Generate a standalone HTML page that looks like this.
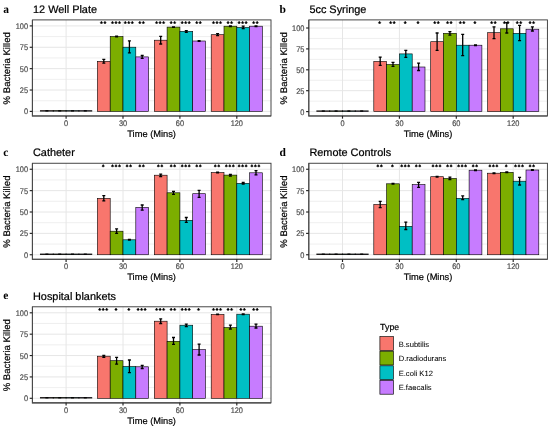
<!DOCTYPE html>
<html><head><meta charset="utf-8"><style>
html,body{margin:0;padding:0;background:#fff;}
svg{display:block;filter:blur(0.35px);}
text{font-family:"Liberation Sans",sans-serif;text-rendering:geometricPrecision;}
.tag{font-family:"Liberation Serif",serif;font-weight:bold;font-size:11.5px;fill:#000;}
.title{font-size:10.9px;fill:#000;stroke:#000;stroke-width:0.22;}
.gmin{stroke:#EBEBEB;stroke-width:0.8;}
.gmaj{stroke:#E6E6E6;stroke-width:1.0;}
.bar{stroke:#000;stroke-width:0.6;}
.bar0{stroke:#000;stroke-width:1.05;}
.err{stroke:#000;stroke-width:1.3;fill:none;}
.star{fill:#000;stroke:#000;stroke-width:0.5;stroke-linejoin:round;}
.border{fill:none;stroke:#333;stroke-width:0.9;}
.axis{fill:none;stroke:#4a4a4a;stroke-width:1.05;}
.tick{stroke:#222;stroke-width:1.15;}
.ytl{font-size:7.4px;text-anchor:end;fill:#4D4D4D;stroke:#4D4D4D;stroke-width:0.18;}
.xtl{font-size:7.4px;text-anchor:middle;fill:#4D4D4D;stroke:#4D4D4D;stroke-width:0.18;}
.axt{font-size:9.3px;text-anchor:middle;fill:#000;stroke:#000;stroke-width:0.2;}
.ayt{font-size:9.55px;}
.legt{font-size:8.8px;fill:#000;stroke:#000;stroke-width:0.2;}
.key{stroke:#000;stroke-width:0.65;}
.legl{font-size:7.6px;fill:#000;stroke:#000;stroke-width:0.05;}
</style></head>
<body><svg width="550" height="427" viewBox="0 0 550 427">
<defs><path id="st" class="star" d="M0 -1.2L1.2 0.3L0.75 1.05L-0.75 1.05L-1.2 0.3Z"/></defs>
<rect width="550" height="427" fill="#fff"/>
<g transform="translate(0,0)">
<text class="tag" x="3.2" y="12.6">a</text>
<text class="title" x="33" y="12.9">12 Well Plate</text>
<line class="gmin" x1="32.4" x2="271" y1="100.71" y2="100.71"/>
<line class="gmin" x1="32.4" x2="271" y1="79.34" y2="79.34"/>
<line class="gmin" x1="32.4" x2="271" y1="57.96" y2="57.96"/>
<line class="gmin" x1="32.4" x2="271" y1="36.59" y2="36.59"/>
<line class="gmaj" x1="32.4" x2="271" y1="111.4" y2="111.4"/>
<line class="gmaj" x1="32.4" x2="271" y1="90.03" y2="90.03"/>
<line class="gmaj" x1="32.4" x2="271" y1="68.65" y2="68.65"/>
<line class="gmaj" x1="32.4" x2="271" y1="47.28" y2="47.28"/>
<line class="gmaj" x1="32.4" x2="271" y1="25.9" y2="25.9"/>
<line class="gmaj" x1="66.1" x2="66.1" y1="19.9" y2="115.95"/>
<line class="gmaj" x1="123" x2="123" y1="19.9" y2="115.95"/>
<line class="gmaj" x1="179.9" x2="179.9" y1="19.9" y2="115.95"/>
<line class="gmaj" x1="236.8" x2="236.8" y1="19.9" y2="115.95"/>
<rect class="bar0" fill="#F8766D" x="40.5" y="110.8" width="12.8" height="0.2"/>
<path class="err" d="M45.4 110.85H48.4"/>
<rect class="bar0" fill="#7CAE00" x="53.3" y="110.8" width="12.8" height="0.2"/>
<path class="err" d="M58.2 110.85H61.2"/>
<rect class="bar0" fill="#00BFC4" x="66.1" y="110.8" width="12.8" height="0.2"/>
<path class="err" d="M71 110.85H74"/>
<rect class="bar0" fill="#C77CFF" x="78.9" y="110.8" width="12.8" height="0.2"/>
<path class="err" d="M83.8 110.85H86.8"/>
<rect class="bar" fill="#F8766D" x="97.4" y="61.3" width="12.8" height="50.1"/>
<rect class="bar" fill="#7CAE00" x="110.2" y="36.5" width="12.8" height="74.9"/>
<rect class="bar" fill="#00BFC4" x="123" y="47.2" width="12.8" height="64.2"/>
<rect class="bar" fill="#C77CFF" x="135.8" y="56.9" width="12.8" height="54.5"/>
<path class="err" d="M102.3 59.4H105.3M103.8 59.4V63.2M102.3 63.2H105.3"/>
<path class="err" d="M115.1 36.2H118.1M116.6 36.2V36.8M115.1 36.8H118.1"/>
<path class="err" d="M127.9 40.8H130.9M129.4 40.8V52.8M127.9 52.8H130.9"/>
<path class="err" d="M140.7 55.5H143.7M142.2 55.5V58.3M140.7 58.3H143.7"/>
<use href="#st" x="101.45" y="22.4"/>
<use href="#st" x="104.95" y="22.4"/>
<use href="#st" x="112.5" y="22.4"/>
<use href="#st" x="116" y="22.4"/>
<use href="#st" x="119.5" y="22.4"/>
<use href="#st" x="125.3" y="22.4"/>
<use href="#st" x="128.8" y="22.4"/>
<use href="#st" x="132.3" y="22.4"/>
<use href="#st" x="139.85" y="22.4"/>
<use href="#st" x="143.35" y="22.4"/>
<rect class="bar" fill="#F8766D" x="154.3" y="40.2" width="12.8" height="71.2"/>
<rect class="bar" fill="#7CAE00" x="167.1" y="27.1" width="12.8" height="84.3"/>
<rect class="bar" fill="#00BFC4" x="179.9" y="31.3" width="12.8" height="80.1"/>
<rect class="bar" fill="#C77CFF" x="192.7" y="41" width="12.8" height="70.4"/>
<path class="err" d="M159.2 36.3H162.2M160.7 36.3V44M159.2 44H162.2"/>
<path class="err" d="M172 26.8H175M173.5 26.8V27.4M172 27.4H175"/>
<path class="err" d="M184.8 30.6H187.8M186.3 30.6V32.3M184.8 32.3H187.8"/>
<path class="err" d="M197.6 40.7H200.6M199.1 40.7V41.3M197.6 41.3H200.6"/>
<use href="#st" x="156.6" y="22.4"/>
<use href="#st" x="160.1" y="22.4"/>
<use href="#st" x="163.6" y="22.4"/>
<use href="#st" x="171.15" y="22.4"/>
<use href="#st" x="174.65" y="22.4"/>
<use href="#st" x="182.2" y="22.4"/>
<use href="#st" x="185.7" y="22.4"/>
<use href="#st" x="189.2" y="22.4"/>
<use href="#st" x="196.75" y="22.4"/>
<use href="#st" x="200.25" y="22.4"/>
<rect class="bar" fill="#F8766D" x="211.2" y="34.7" width="12.8" height="76.7"/>
<rect class="bar" fill="#7CAE00" x="224" y="26.2" width="12.8" height="85.2"/>
<rect class="bar" fill="#00BFC4" x="236.8" y="27.4" width="12.8" height="84"/>
<rect class="bar" fill="#C77CFF" x="249.6" y="26.2" width="12.8" height="85.2"/>
<path class="err" d="M216.1 33.7H219.1M217.6 33.7V35.7M216.1 35.7H219.1"/>
<path class="err" d="M228.9 25.9H231.9M230.4 25.9V26.5M228.9 26.5H231.9"/>
<path class="err" d="M241.7 26.2H244.7M243.2 26.2V28.6M241.7 28.6H244.7"/>
<path class="err" d="M254.5 25.9H257.5M256 25.9V26.5M254.5 26.5H257.5"/>
<use href="#st" x="213.5" y="22.4"/>
<use href="#st" x="217" y="22.4"/>
<use href="#st" x="220.5" y="22.4"/>
<use href="#st" x="228.05" y="22.4"/>
<use href="#st" x="231.55" y="22.4"/>
<use href="#st" x="239.1" y="22.4"/>
<use href="#st" x="242.6" y="22.4"/>
<use href="#st" x="246.1" y="22.4"/>
<use href="#st" x="253.65" y="22.4"/>
<use href="#st" x="257.15" y="22.4"/>
<rect class="border" x="32.4" y="19.9" width="238.6" height="96.05"/>
<path class="axis" d="M32.4 19.9V115.95H271"/>
<line class="tick" x1="29.7" x2="32.4" y1="111.4" y2="111.4"/>
<text class="ytl" transform="translate(28.0,114.4) scale(1,1.1)">0</text>
<line class="tick" x1="29.7" x2="32.4" y1="90.03" y2="90.03"/>
<text class="ytl" transform="translate(28.0,93.03) scale(1,1.1)">25</text>
<line class="tick" x1="29.7" x2="32.4" y1="68.65" y2="68.65"/>
<text class="ytl" transform="translate(28.0,71.65) scale(1,1.1)">50</text>
<line class="tick" x1="29.7" x2="32.4" y1="47.28" y2="47.28"/>
<text class="ytl" transform="translate(28.0,50.28) scale(1,1.1)">75</text>
<line class="tick" x1="29.7" x2="32.4" y1="25.9" y2="25.9"/>
<text class="ytl" transform="translate(28.0,28.9) scale(1,1.1)">100</text>
<line class="tick" x1="66.1" x2="66.1" y1="115.95" y2="118.65"/>
<text class="xtl" transform="translate(66.1,126.0) scale(1,1.1)">0</text>
<line class="tick" x1="123" x2="123" y1="115.95" y2="118.65"/>
<text class="xtl" transform="translate(123,126.0) scale(1,1.1)">30</text>
<line class="tick" x1="179.9" x2="179.9" y1="115.95" y2="118.65"/>
<text class="xtl" transform="translate(179.9,126.0) scale(1,1.1)">60</text>
<line class="tick" x1="236.8" x2="236.8" y1="115.95" y2="118.65"/>
<text class="xtl" transform="translate(236.8,126.0) scale(1,1.1)">120</text>
<text class="axt" x="151.6" y="137">Time (Mins)</text>
<text class="axt ayt" transform="translate(10.2,68.3) rotate(-90)" x="0" y="0">% Bacteria Killed</text>
</g>
<g transform="translate(276.4,0)">
<text class="tag" x="3.2" y="12.6">b</text>
<text class="title" x="33" y="12.9">5cc Syringe</text>
<line class="gmin" x1="32.4" x2="271" y1="101.15" y2="101.15"/>
<line class="gmin" x1="32.4" x2="271" y1="80.25" y2="80.25"/>
<line class="gmin" x1="32.4" x2="271" y1="59.35" y2="59.35"/>
<line class="gmin" x1="32.4" x2="271" y1="38.45" y2="38.45"/>
<line class="gmaj" x1="32.4" x2="271" y1="111.6" y2="111.6"/>
<line class="gmaj" x1="32.4" x2="271" y1="90.7" y2="90.7"/>
<line class="gmaj" x1="32.4" x2="271" y1="69.8" y2="69.8"/>
<line class="gmaj" x1="32.4" x2="271" y1="48.9" y2="48.9"/>
<line class="gmaj" x1="32.4" x2="271" y1="28" y2="28"/>
<line class="gmaj" x1="66.1" x2="66.1" y1="19.9" y2="115.95"/>
<line class="gmaj" x1="123" x2="123" y1="19.9" y2="115.95"/>
<line class="gmaj" x1="179.9" x2="179.9" y1="19.9" y2="115.95"/>
<line class="gmaj" x1="236.8" x2="236.8" y1="19.9" y2="115.95"/>
<rect class="bar0" fill="#F8766D" x="40.5" y="111" width="12.8" height="0.2"/>
<path class="err" d="M45.4 111.05H48.4"/>
<rect class="bar0" fill="#7CAE00" x="53.3" y="111" width="12.8" height="0.2"/>
<path class="err" d="M58.2 111.05H61.2"/>
<rect class="bar0" fill="#00BFC4" x="66.1" y="111" width="12.8" height="0.2"/>
<path class="err" d="M71 111.05H74"/>
<rect class="bar0" fill="#C77CFF" x="78.9" y="111" width="12.8" height="0.2"/>
<path class="err" d="M83.8 111.05H86.8"/>
<rect class="bar" fill="#F8766D" x="97.4" y="61.4" width="12.8" height="50.2"/>
<rect class="bar" fill="#7CAE00" x="110.2" y="64.5" width="12.8" height="47.1"/>
<rect class="bar" fill="#00BFC4" x="123" y="53.9" width="12.8" height="57.7"/>
<rect class="bar" fill="#C77CFF" x="135.8" y="67" width="12.8" height="44.6"/>
<path class="err" d="M102.3 57.2H105.3M103.8 57.2V65.3M102.3 65.3H105.3"/>
<path class="err" d="M115.1 62.4H118.1M116.6 62.4V66.3M115.1 66.3H118.1"/>
<path class="err" d="M127.9 50.4H130.9M129.4 50.4V57.4M127.9 57.4H130.9"/>
<path class="err" d="M140.7 63.2H143.7M142.2 63.2V70.5M140.7 70.5H143.7"/>
<use href="#st" x="103.2" y="22.4"/>
<use href="#st" x="114.25" y="22.4"/>
<use href="#st" x="117.75" y="22.4"/>
<use href="#st" x="128.8" y="22.4"/>
<use href="#st" x="141.6" y="22.4"/>
<rect class="bar" fill="#F8766D" x="154.3" y="41.7" width="12.8" height="69.9"/>
<rect class="bar" fill="#7CAE00" x="167.1" y="33.3" width="12.8" height="78.3"/>
<rect class="bar" fill="#00BFC4" x="179.9" y="45.2" width="12.8" height="66.4"/>
<rect class="bar" fill="#C77CFF" x="192.7" y="45.2" width="12.8" height="66.4"/>
<path class="err" d="M159.2 33H162.2M160.7 33V50.4M159.2 50.4H162.2"/>
<path class="err" d="M172 31.6H175M173.5 31.6V35.1M172 35.1H175"/>
<path class="err" d="M184.8 34.4H187.8M186.3 34.4V55.7M184.8 55.7H187.8"/>
<path class="err" d="M197.6 44.9H200.6M199.1 44.9V45.5M197.6 45.5H200.6"/>
<use href="#st" x="158.35" y="22.4"/>
<use href="#st" x="161.85" y="22.4"/>
<use href="#st" x="171.15" y="22.4"/>
<use href="#st" x="174.65" y="22.4"/>
<use href="#st" x="183.95" y="22.4"/>
<use href="#st" x="187.45" y="22.4"/>
<use href="#st" x="198.5" y="22.4"/>
<rect class="bar" fill="#F8766D" x="211.2" y="32.7" width="12.8" height="78.9"/>
<rect class="bar" fill="#7CAE00" x="224" y="28.8" width="12.8" height="82.8"/>
<rect class="bar" fill="#00BFC4" x="236.8" y="33.3" width="12.8" height="78.3"/>
<rect class="bar" fill="#C77CFF" x="249.6" y="29.2" width="12.8" height="82.4"/>
<path class="err" d="M216.1 26.8H219.1M217.6 26.8V38.6M216.1 38.6H219.1"/>
<path class="err" d="M228.9 22.7H231.9M230.4 22.7V33M228.9 33H231.9"/>
<path class="err" d="M241.7 25.4H244.7M243.2 25.4V40.6M241.7 40.6H244.7"/>
<path class="err" d="M254.5 26.8H257.5M256 26.8V31M254.5 31H257.5"/>
<use href="#st" x="215.25" y="22.4"/>
<use href="#st" x="218.75" y="22.4"/>
<use href="#st" x="228.05" y="22.4"/>
<use href="#st" x="231.55" y="22.4"/>
<use href="#st" x="240.85" y="22.4"/>
<use href="#st" x="244.35" y="22.4"/>
<use href="#st" x="253.65" y="22.4"/>
<use href="#st" x="257.15" y="22.4"/>
<rect class="border" x="32.4" y="19.9" width="238.6" height="96.05"/>
<path class="axis" d="M32.4 19.9V115.95H271"/>
<line class="tick" x1="29.7" x2="32.4" y1="111.6" y2="111.6"/>
<text class="ytl" transform="translate(28.0,114.6) scale(1,1.1)">0</text>
<line class="tick" x1="29.7" x2="32.4" y1="90.7" y2="90.7"/>
<text class="ytl" transform="translate(28.0,93.7) scale(1,1.1)">25</text>
<line class="tick" x1="29.7" x2="32.4" y1="69.8" y2="69.8"/>
<text class="ytl" transform="translate(28.0,72.8) scale(1,1.1)">50</text>
<line class="tick" x1="29.7" x2="32.4" y1="48.9" y2="48.9"/>
<text class="ytl" transform="translate(28.0,51.9) scale(1,1.1)">75</text>
<line class="tick" x1="29.7" x2="32.4" y1="28" y2="28"/>
<text class="ytl" transform="translate(28.0,31) scale(1,1.1)">100</text>
<line class="tick" x1="66.1" x2="66.1" y1="115.95" y2="118.65"/>
<text class="xtl" transform="translate(66.1,126.0) scale(1,1.1)">0</text>
<line class="tick" x1="123" x2="123" y1="115.95" y2="118.65"/>
<text class="xtl" transform="translate(123,126.0) scale(1,1.1)">30</text>
<line class="tick" x1="179.9" x2="179.9" y1="115.95" y2="118.65"/>
<text class="xtl" transform="translate(179.9,126.0) scale(1,1.1)">60</text>
<line class="tick" x1="236.8" x2="236.8" y1="115.95" y2="118.65"/>
<text class="xtl" transform="translate(236.8,126.0) scale(1,1.1)">120</text>
<text class="axt" x="151.6" y="137">Time (Mins)</text>
<text class="axt ayt" transform="translate(10.2,68.3) rotate(-90)" x="0" y="0">% Bacteria Killed</text>
</g>
<g transform="translate(0,143.35)">
<text class="tag" x="3.2" y="12.6">c</text>
<text class="title" x="33" y="12.9">Catheter</text>
<line class="gmin" x1="32.4" x2="271" y1="100.71" y2="100.71"/>
<line class="gmin" x1="32.4" x2="271" y1="79.34" y2="79.34"/>
<line class="gmin" x1="32.4" x2="271" y1="57.96" y2="57.96"/>
<line class="gmin" x1="32.4" x2="271" y1="36.59" y2="36.59"/>
<line class="gmaj" x1="32.4" x2="271" y1="111.4" y2="111.4"/>
<line class="gmaj" x1="32.4" x2="271" y1="90.03" y2="90.03"/>
<line class="gmaj" x1="32.4" x2="271" y1="68.65" y2="68.65"/>
<line class="gmaj" x1="32.4" x2="271" y1="47.28" y2="47.28"/>
<line class="gmaj" x1="32.4" x2="271" y1="25.9" y2="25.9"/>
<line class="gmaj" x1="66.1" x2="66.1" y1="19.9" y2="115.95"/>
<line class="gmaj" x1="123" x2="123" y1="19.9" y2="115.95"/>
<line class="gmaj" x1="179.9" x2="179.9" y1="19.9" y2="115.95"/>
<line class="gmaj" x1="236.8" x2="236.8" y1="19.9" y2="115.95"/>
<rect class="bar0" fill="#F8766D" x="40.5" y="110.8" width="12.8" height="0.2"/>
<path class="err" d="M45.4 110.85H48.4"/>
<rect class="bar0" fill="#7CAE00" x="53.3" y="110.8" width="12.8" height="0.2"/>
<path class="err" d="M58.2 110.85H61.2"/>
<rect class="bar0" fill="#00BFC4" x="66.1" y="110.8" width="12.8" height="0.2"/>
<path class="err" d="M71 110.85H74"/>
<rect class="bar0" fill="#C77CFF" x="78.9" y="110.8" width="12.8" height="0.2"/>
<path class="err" d="M83.8 110.85H86.8"/>
<rect class="bar" fill="#F8766D" x="97.4" y="54.95" width="12.8" height="56.45"/>
<rect class="bar" fill="#7CAE00" x="110.2" y="87.85" width="12.8" height="23.55"/>
<rect class="bar" fill="#00BFC4" x="123" y="96.45" width="12.8" height="14.95"/>
<rect class="bar" fill="#C77CFF" x="135.8" y="64.05" width="12.8" height="47.35"/>
<path class="err" d="M102.3 52.35H105.3M103.8 52.35V57.55M102.3 57.55H105.3"/>
<path class="err" d="M115.1 85.45H118.1M116.6 85.45V90.05M115.1 90.05H118.1"/>
<path class="err" d="M127.9 96.15H130.9M129.4 96.15V96.75M127.9 96.75H130.9"/>
<path class="err" d="M140.7 61.65H143.7M142.2 61.65V66.85M140.7 66.85H143.7"/>
<use href="#st" x="103.2" y="22.4"/>
<use href="#st" x="112.5" y="22.4"/>
<use href="#st" x="116" y="22.4"/>
<use href="#st" x="119.5" y="22.4"/>
<use href="#st" x="127.05" y="22.4"/>
<use href="#st" x="130.55" y="22.4"/>
<use href="#st" x="139.85" y="22.4"/>
<use href="#st" x="143.35" y="22.4"/>
<rect class="bar" fill="#F8766D" x="154.3" y="31.85" width="12.8" height="79.55"/>
<rect class="bar" fill="#7CAE00" x="167.1" y="49.45" width="12.8" height="61.95"/>
<rect class="bar" fill="#00BFC4" x="179.9" y="76.95" width="12.8" height="34.45"/>
<rect class="bar" fill="#C77CFF" x="192.7" y="50.35" width="12.8" height="61.05"/>
<path class="err" d="M159.2 30.75H162.2M160.7 30.75V33.15M159.2 33.15H162.2"/>
<path class="err" d="M172 47.95H175M173.5 47.95V51.05M172 51.05H175"/>
<path class="err" d="M184.8 74.15H187.8M186.3 74.15V78.95M184.8 78.95H187.8"/>
<path class="err" d="M197.6 46.95H200.6M199.1 46.95V53.95M197.6 53.95H200.6"/>
<use href="#st" x="158.35" y="22.4"/>
<use href="#st" x="161.85" y="22.4"/>
<use href="#st" x="171.15" y="22.4"/>
<use href="#st" x="174.65" y="22.4"/>
<use href="#st" x="182.2" y="22.4"/>
<use href="#st" x="185.7" y="22.4"/>
<use href="#st" x="189.2" y="22.4"/>
<use href="#st" x="196.75" y="22.4"/>
<use href="#st" x="200.25" y="22.4"/>
<rect class="bar" fill="#F8766D" x="211.2" y="29.15" width="12.8" height="82.25"/>
<rect class="bar" fill="#7CAE00" x="224" y="31.75" width="12.8" height="79.65"/>
<rect class="bar" fill="#00BFC4" x="236.8" y="39.95" width="12.8" height="71.45"/>
<rect class="bar" fill="#C77CFF" x="249.6" y="29.45" width="12.8" height="81.95"/>
<path class="err" d="M216.1 28.85H219.1M217.6 28.85V29.45M216.1 29.45H219.1"/>
<path class="err" d="M228.9 31.05H231.9M230.4 31.05V32.65M228.9 32.65H231.9"/>
<path class="err" d="M241.7 39.15H244.7M243.2 39.15V40.65M241.7 40.65H244.7"/>
<path class="err" d="M254.5 27.35H257.5M256 27.35V31.55M254.5 31.55H257.5"/>
<use href="#st" x="215.25" y="22.4"/>
<use href="#st" x="218.75" y="22.4"/>
<use href="#st" x="226.3" y="22.4"/>
<use href="#st" x="229.8" y="22.4"/>
<use href="#st" x="233.3" y="22.4"/>
<use href="#st" x="239.1" y="22.4"/>
<use href="#st" x="242.6" y="22.4"/>
<use href="#st" x="246.1" y="22.4"/>
<use href="#st" x="251.9" y="22.4"/>
<use href="#st" x="255.4" y="22.4"/>
<use href="#st" x="258.9" y="22.4"/>
<rect class="border" x="32.4" y="19.9" width="238.6" height="96.05"/>
<path class="axis" d="M32.4 19.9V115.95H271"/>
<line class="tick" x1="29.7" x2="32.4" y1="111.4" y2="111.4"/>
<text class="ytl" transform="translate(28.0,114.4) scale(1,1.1)">0</text>
<line class="tick" x1="29.7" x2="32.4" y1="90.03" y2="90.03"/>
<text class="ytl" transform="translate(28.0,93.03) scale(1,1.1)">25</text>
<line class="tick" x1="29.7" x2="32.4" y1="68.65" y2="68.65"/>
<text class="ytl" transform="translate(28.0,71.65) scale(1,1.1)">50</text>
<line class="tick" x1="29.7" x2="32.4" y1="47.28" y2="47.28"/>
<text class="ytl" transform="translate(28.0,50.28) scale(1,1.1)">75</text>
<line class="tick" x1="29.7" x2="32.4" y1="25.9" y2="25.9"/>
<text class="ytl" transform="translate(28.0,28.9) scale(1,1.1)">100</text>
<line class="tick" x1="66.1" x2="66.1" y1="115.95" y2="118.65"/>
<text class="xtl" transform="translate(66.1,126.0) scale(1,1.1)">0</text>
<line class="tick" x1="123" x2="123" y1="115.95" y2="118.65"/>
<text class="xtl" transform="translate(123,126.0) scale(1,1.1)">30</text>
<line class="tick" x1="179.9" x2="179.9" y1="115.95" y2="118.65"/>
<text class="xtl" transform="translate(179.9,126.0) scale(1,1.1)">60</text>
<line class="tick" x1="236.8" x2="236.8" y1="115.95" y2="118.65"/>
<text class="xtl" transform="translate(236.8,126.0) scale(1,1.1)">120</text>
<text class="axt" x="151.6" y="137">Time (Mins)</text>
<text class="axt ayt" transform="translate(10.2,68.3) rotate(-90)" x="0" y="0">% Bacteria Killed</text>
</g>
<g transform="translate(276.4,143.35)">
<text class="tag" x="3.2" y="12.6">d</text>
<text class="title" x="33" y="12.9">Remote Controls</text>
<line class="gmin" x1="32.4" x2="271" y1="100.71" y2="100.71"/>
<line class="gmin" x1="32.4" x2="271" y1="79.34" y2="79.34"/>
<line class="gmin" x1="32.4" x2="271" y1="57.96" y2="57.96"/>
<line class="gmin" x1="32.4" x2="271" y1="36.59" y2="36.59"/>
<line class="gmaj" x1="32.4" x2="271" y1="111.4" y2="111.4"/>
<line class="gmaj" x1="32.4" x2="271" y1="90.03" y2="90.03"/>
<line class="gmaj" x1="32.4" x2="271" y1="68.65" y2="68.65"/>
<line class="gmaj" x1="32.4" x2="271" y1="47.28" y2="47.28"/>
<line class="gmaj" x1="32.4" x2="271" y1="25.9" y2="25.9"/>
<line class="gmaj" x1="66.1" x2="66.1" y1="19.9" y2="115.95"/>
<line class="gmaj" x1="123" x2="123" y1="19.9" y2="115.95"/>
<line class="gmaj" x1="179.9" x2="179.9" y1="19.9" y2="115.95"/>
<line class="gmaj" x1="236.8" x2="236.8" y1="19.9" y2="115.95"/>
<rect class="bar0" fill="#F8766D" x="40.5" y="110.8" width="12.8" height="0.2"/>
<path class="err" d="M45.4 110.85H48.4"/>
<rect class="bar0" fill="#7CAE00" x="53.3" y="110.8" width="12.8" height="0.2"/>
<path class="err" d="M58.2 110.85H61.2"/>
<rect class="bar0" fill="#00BFC4" x="66.1" y="110.8" width="12.8" height="0.2"/>
<path class="err" d="M71 110.85H74"/>
<rect class="bar0" fill="#C77CFF" x="78.9" y="110.8" width="12.8" height="0.2"/>
<path class="err" d="M83.8 110.85H86.8"/>
<rect class="bar" fill="#F8766D" x="97.4" y="61.05" width="12.8" height="50.35"/>
<rect class="bar" fill="#7CAE00" x="110.2" y="40.45" width="12.8" height="70.95"/>
<rect class="bar" fill="#00BFC4" x="123" y="82.95" width="12.8" height="28.45"/>
<rect class="bar" fill="#C77CFF" x="135.8" y="41.25" width="12.8" height="70.15"/>
<path class="err" d="M102.3 58.05H105.3M103.8 58.05V64.25M102.3 64.25H105.3"/>
<path class="err" d="M115.1 40.15H118.1M116.6 40.15V40.75M115.1 40.75H118.1"/>
<path class="err" d="M127.9 78.85H130.9M129.4 78.85V86.15M127.9 86.15H130.9"/>
<path class="err" d="M140.7 38.95H143.7M142.2 38.95V44.05M140.7 44.05H143.7"/>
<use href="#st" x="101.45" y="22.4"/>
<use href="#st" x="104.95" y="22.4"/>
<use href="#st" x="116" y="22.4"/>
<use href="#st" x="125.3" y="22.4"/>
<use href="#st" x="128.8" y="22.4"/>
<use href="#st" x="132.3" y="22.4"/>
<use href="#st" x="139.85" y="22.4"/>
<use href="#st" x="143.35" y="22.4"/>
<rect class="bar" fill="#F8766D" x="154.3" y="33.35" width="12.8" height="78.05"/>
<rect class="bar" fill="#7CAE00" x="167.1" y="35.05" width="12.8" height="76.35"/>
<rect class="bar" fill="#00BFC4" x="179.9" y="54.95" width="12.8" height="56.45"/>
<rect class="bar" fill="#C77CFF" x="192.7" y="26.85" width="12.8" height="84.55"/>
<path class="err" d="M159.2 33.05H162.2M160.7 33.05V33.65M159.2 33.65H162.2"/>
<path class="err" d="M172 33.85H175M173.5 33.85V36.15M172 36.15H175"/>
<path class="err" d="M184.8 52.55H187.8M186.3 52.55V56.35M184.8 56.35H187.8"/>
<path class="err" d="M197.6 26.55H200.6M199.1 26.55V27.15M197.6 27.15H200.6"/>
<use href="#st" x="156.6" y="22.4"/>
<use href="#st" x="160.1" y="22.4"/>
<use href="#st" x="163.6" y="22.4"/>
<use href="#st" x="171.15" y="22.4"/>
<use href="#st" x="174.65" y="22.4"/>
<use href="#st" x="182.2" y="22.4"/>
<use href="#st" x="185.7" y="22.4"/>
<use href="#st" x="189.2" y="22.4"/>
<use href="#st" x="196.75" y="22.4"/>
<use href="#st" x="200.25" y="22.4"/>
<rect class="bar" fill="#F8766D" x="211.2" y="29.85" width="12.8" height="81.55"/>
<rect class="bar" fill="#7CAE00" x="224" y="28.95" width="12.8" height="82.45"/>
<rect class="bar" fill="#00BFC4" x="236.8" y="37.85" width="12.8" height="73.55"/>
<rect class="bar" fill="#C77CFF" x="249.6" y="26.65" width="12.8" height="84.75"/>
<path class="err" d="M216.1 29.55H219.1M217.6 29.55V30.15M216.1 30.15H219.1"/>
<path class="err" d="M228.9 28.65H231.9M230.4 28.65V29.25M228.9 29.25H231.9"/>
<path class="err" d="M241.7 33.95H244.7M243.2 33.95V41.65M241.7 41.65H244.7"/>
<path class="err" d="M254.5 26.35H257.5M256 26.35V26.95M254.5 26.95H257.5"/>
<use href="#st" x="213.5" y="22.4"/>
<use href="#st" x="217" y="22.4"/>
<use href="#st" x="220.5" y="22.4"/>
<use href="#st" x="229.8" y="22.4"/>
<use href="#st" x="239.1" y="22.4"/>
<use href="#st" x="242.6" y="22.4"/>
<use href="#st" x="246.1" y="22.4"/>
<use href="#st" x="253.65" y="22.4"/>
<use href="#st" x="257.15" y="22.4"/>
<rect class="border" x="32.4" y="19.9" width="238.6" height="96.05"/>
<path class="axis" d="M32.4 19.9V115.95H271"/>
<line class="tick" x1="29.7" x2="32.4" y1="111.4" y2="111.4"/>
<text class="ytl" transform="translate(28.0,114.4) scale(1,1.1)">0</text>
<line class="tick" x1="29.7" x2="32.4" y1="90.03" y2="90.03"/>
<text class="ytl" transform="translate(28.0,93.03) scale(1,1.1)">25</text>
<line class="tick" x1="29.7" x2="32.4" y1="68.65" y2="68.65"/>
<text class="ytl" transform="translate(28.0,71.65) scale(1,1.1)">50</text>
<line class="tick" x1="29.7" x2="32.4" y1="47.28" y2="47.28"/>
<text class="ytl" transform="translate(28.0,50.28) scale(1,1.1)">75</text>
<line class="tick" x1="29.7" x2="32.4" y1="25.9" y2="25.9"/>
<text class="ytl" transform="translate(28.0,28.9) scale(1,1.1)">100</text>
<line class="tick" x1="66.1" x2="66.1" y1="115.95" y2="118.65"/>
<text class="xtl" transform="translate(66.1,126.0) scale(1,1.1)">0</text>
<line class="tick" x1="123" x2="123" y1="115.95" y2="118.65"/>
<text class="xtl" transform="translate(123,126.0) scale(1,1.1)">30</text>
<line class="tick" x1="179.9" x2="179.9" y1="115.95" y2="118.65"/>
<text class="xtl" transform="translate(179.9,126.0) scale(1,1.1)">60</text>
<line class="tick" x1="236.8" x2="236.8" y1="115.95" y2="118.65"/>
<text class="xtl" transform="translate(236.8,126.0) scale(1,1.1)">120</text>
<text class="axt" x="151.6" y="137">Time (Mins)</text>
<text class="axt ayt" transform="translate(10.2,68.3) rotate(-90)" x="0" y="0">% Bacteria Killed</text>
</g>
<g transform="translate(0,286.9)">
<text class="tag" x="3.2" y="12.6">e</text>
<text class="title" x="33" y="12.9">Hospital blankets</text>
<line class="gmin" x1="32.4" x2="271" y1="100.71" y2="100.71"/>
<line class="gmin" x1="32.4" x2="271" y1="79.34" y2="79.34"/>
<line class="gmin" x1="32.4" x2="271" y1="57.96" y2="57.96"/>
<line class="gmin" x1="32.4" x2="271" y1="36.59" y2="36.59"/>
<line class="gmaj" x1="32.4" x2="271" y1="111.4" y2="111.4"/>
<line class="gmaj" x1="32.4" x2="271" y1="90.03" y2="90.03"/>
<line class="gmaj" x1="32.4" x2="271" y1="68.65" y2="68.65"/>
<line class="gmaj" x1="32.4" x2="271" y1="47.28" y2="47.28"/>
<line class="gmaj" x1="32.4" x2="271" y1="25.9" y2="25.9"/>
<line class="gmaj" x1="66.1" x2="66.1" y1="19.9" y2="115.95"/>
<line class="gmaj" x1="123" x2="123" y1="19.9" y2="115.95"/>
<line class="gmaj" x1="179.9" x2="179.9" y1="19.9" y2="115.95"/>
<line class="gmaj" x1="236.8" x2="236.8" y1="19.9" y2="115.95"/>
<rect class="bar0" fill="#F8766D" x="40.5" y="110.8" width="12.8" height="0.2"/>
<path class="err" d="M45.4 110.85H48.4"/>
<rect class="bar0" fill="#7CAE00" x="53.3" y="110.8" width="12.8" height="0.2"/>
<path class="err" d="M58.2 110.85H61.2"/>
<rect class="bar0" fill="#00BFC4" x="66.1" y="110.8" width="12.8" height="0.2"/>
<path class="err" d="M71 110.85H74"/>
<rect class="bar0" fill="#C77CFF" x="78.9" y="110.8" width="12.8" height="0.2"/>
<path class="err" d="M83.8 110.85H86.8"/>
<rect class="bar" fill="#F8766D" x="97.4" y="69.3" width="12.8" height="42.1"/>
<rect class="bar" fill="#7CAE00" x="110.2" y="73.8" width="12.8" height="37.6"/>
<rect class="bar" fill="#00BFC4" x="123" y="79.6" width="12.8" height="31.8"/>
<rect class="bar" fill="#C77CFF" x="135.8" y="79.9" width="12.8" height="31.5"/>
<path class="err" d="M102.3 68.6H105.3M103.8 68.6V70.5M102.3 70.5H105.3"/>
<path class="err" d="M115.1 70.5H118.1M116.6 70.5V77.3M115.1 77.3H118.1"/>
<path class="err" d="M127.9 73.1H130.9M129.4 73.1V85.8M127.9 85.8H130.9"/>
<path class="err" d="M140.7 78.5H143.7M142.2 78.5V81.6M140.7 81.6H143.7"/>
<use href="#st" x="99.7" y="22.4"/>
<use href="#st" x="103.2" y="22.4"/>
<use href="#st" x="106.7" y="22.4"/>
<use href="#st" x="116" y="22.4"/>
<use href="#st" x="128.8" y="22.4"/>
<use href="#st" x="138.1" y="22.4"/>
<use href="#st" x="141.6" y="22.4"/>
<use href="#st" x="145.1" y="22.4"/>
<rect class="bar" fill="#F8766D" x="154.3" y="34.3" width="12.8" height="77.1"/>
<rect class="bar" fill="#7CAE00" x="167.1" y="54.4" width="12.8" height="57"/>
<rect class="bar" fill="#00BFC4" x="179.9" y="38.3" width="12.8" height="73.1"/>
<rect class="bar" fill="#C77CFF" x="192.7" y="62.6" width="12.8" height="48.8"/>
<path class="err" d="M159.2 32H162.2M160.7 32V36.6M159.2 36.6H162.2"/>
<path class="err" d="M172 50.6H175M173.5 50.6V57.5M172 57.5H175"/>
<path class="err" d="M184.8 37.2H187.8M186.3 37.2V39.7M184.8 39.7H187.8"/>
<path class="err" d="M197.6 57.3H200.6M199.1 57.3V68.1M197.6 68.1H200.6"/>
<use href="#st" x="156.6" y="22.4"/>
<use href="#st" x="160.1" y="22.4"/>
<use href="#st" x="163.6" y="22.4"/>
<use href="#st" x="171.15" y="22.4"/>
<use href="#st" x="174.65" y="22.4"/>
<use href="#st" x="182.2" y="22.4"/>
<use href="#st" x="185.7" y="22.4"/>
<use href="#st" x="189.2" y="22.4"/>
<use href="#st" x="198.5" y="22.4"/>
<rect class="bar" fill="#F8766D" x="211.2" y="27.5" width="12.8" height="83.9"/>
<rect class="bar" fill="#7CAE00" x="224" y="40.7" width="12.8" height="70.7"/>
<rect class="bar" fill="#00BFC4" x="236.8" y="27.3" width="12.8" height="84.1"/>
<rect class="bar" fill="#C77CFF" x="249.6" y="39.3" width="12.8" height="72.1"/>
<path class="err" d="M216.1 27.2H219.1M217.6 27.2V27.8M216.1 27.8H219.1"/>
<path class="err" d="M228.9 38.3H231.9M230.4 38.3V42.1M228.9 42.1H231.9"/>
<path class="err" d="M241.7 27H244.7M243.2 27V27.6M241.7 27.6H244.7"/>
<path class="err" d="M254.5 37.3H257.5M256 37.3V41.1M254.5 41.1H257.5"/>
<use href="#st" x="213.5" y="22.4"/>
<use href="#st" x="217" y="22.4"/>
<use href="#st" x="220.5" y="22.4"/>
<use href="#st" x="228.05" y="22.4"/>
<use href="#st" x="231.55" y="22.4"/>
<use href="#st" x="240.85" y="22.4"/>
<use href="#st" x="244.35" y="22.4"/>
<use href="#st" x="253.65" y="22.4"/>
<use href="#st" x="257.15" y="22.4"/>
<rect class="border" x="32.4" y="19.9" width="238.6" height="96.05"/>
<path class="axis" d="M32.4 19.9V115.95H271"/>
<line class="tick" x1="29.7" x2="32.4" y1="111.4" y2="111.4"/>
<text class="ytl" transform="translate(28.0,114.4) scale(1,1.1)">0</text>
<line class="tick" x1="29.7" x2="32.4" y1="90.03" y2="90.03"/>
<text class="ytl" transform="translate(28.0,93.03) scale(1,1.1)">25</text>
<line class="tick" x1="29.7" x2="32.4" y1="68.65" y2="68.65"/>
<text class="ytl" transform="translate(28.0,71.65) scale(1,1.1)">50</text>
<line class="tick" x1="29.7" x2="32.4" y1="47.28" y2="47.28"/>
<text class="ytl" transform="translate(28.0,50.28) scale(1,1.1)">75</text>
<line class="tick" x1="29.7" x2="32.4" y1="25.9" y2="25.9"/>
<text class="ytl" transform="translate(28.0,28.9) scale(1,1.1)">100</text>
<line class="tick" x1="66.1" x2="66.1" y1="115.95" y2="118.65"/>
<text class="xtl" transform="translate(66.1,126.0) scale(1,1.1)">0</text>
<line class="tick" x1="123" x2="123" y1="115.95" y2="118.65"/>
<text class="xtl" transform="translate(123,126.0) scale(1,1.1)">30</text>
<line class="tick" x1="179.9" x2="179.9" y1="115.95" y2="118.65"/>
<text class="xtl" transform="translate(179.9,126.0) scale(1,1.1)">60</text>
<line class="tick" x1="236.8" x2="236.8" y1="115.95" y2="118.65"/>
<text class="xtl" transform="translate(236.8,126.0) scale(1,1.1)">120</text>
<text class="axt" x="151.6" y="137">Time (Mins)</text>
<text class="axt ayt" transform="translate(10.2,68.3) rotate(-90)" x="0" y="0">% Bacteria Killed</text>
</g>
<text class="legt" x="380.1" y="330.3">Type</text>
<rect class="key" fill="#F8766D" x="379.9" y="336.6" width="13.5" height="13.8"/>
<rect class="key" fill="#7CAE00" x="379.9" y="351.2" width="13.5" height="13.8"/>
<rect class="key" fill="#00BFC4" x="379.9" y="365.8" width="13.5" height="13.8"/>
<rect class="key" fill="#C77CFF" x="379.9" y="380.4" width="13.5" height="13.8"/>
<text class="legl" x="398.7" y="346.5">B.subtilis</text>
<text class="legl" x="398.7" y="361.05">D.radiodurans</text>
<text class="legl" x="398.7" y="375.6">E.coli K12</text>
<text class="legl" x="398.7" y="390.15">E.faecalis</text>
</svg></body></html>
